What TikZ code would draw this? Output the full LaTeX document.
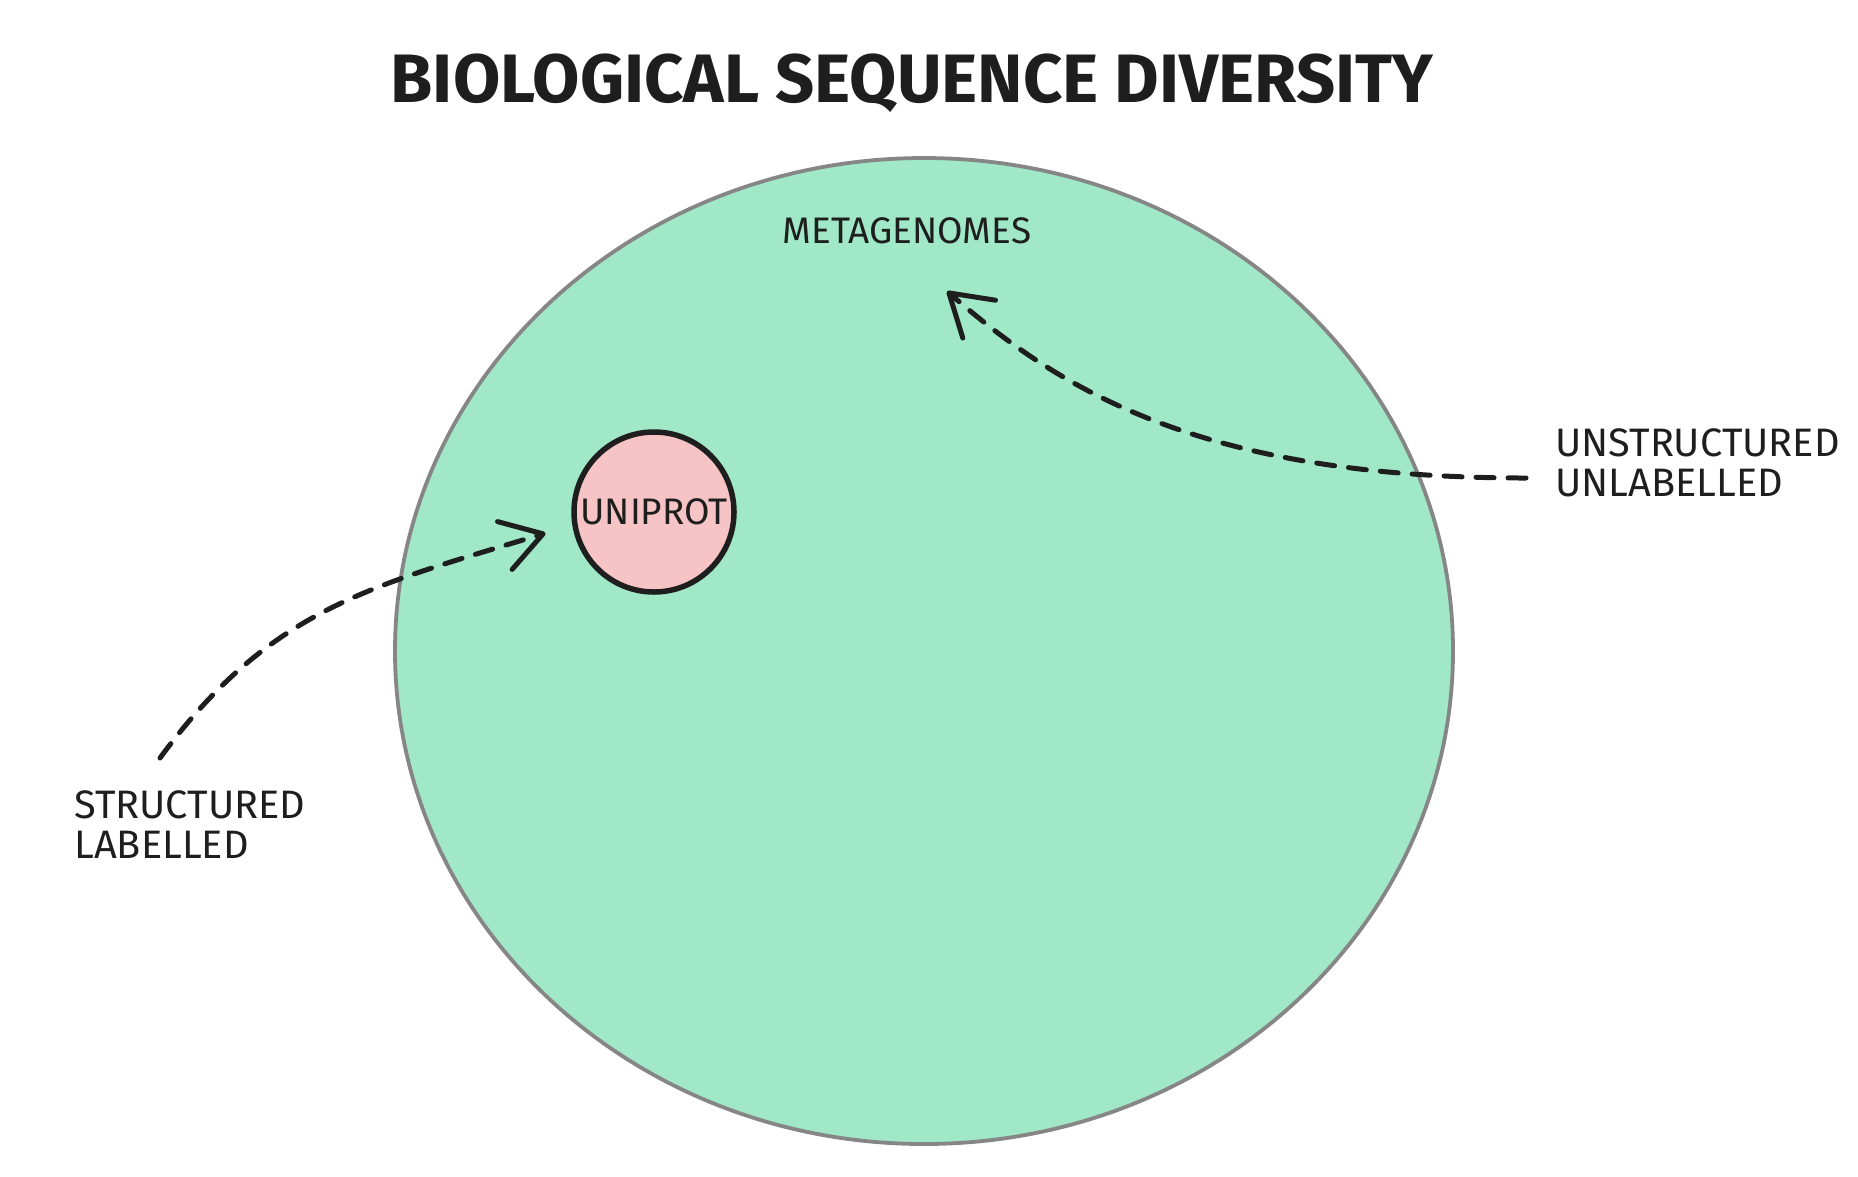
\documentclass[tikz,border=0pt]{standalone}
\usepackage{fontspec}
\setmainfont{Fira Sans}
\usetikzlibrary{shapes, positioning, arrows.meta}
\definecolor{metagreen}{RGB}{160,232,199}
\definecolor{uniprotpink}{RGB}{246,196,196}
\definecolor{rimgray}{RGB}{134,134,134}
\definecolor{inkblack}{RGB}{30,30,30}

\begin{document}
\begin{tikzpicture}[x=0.1mm, y=-0.1mm]
\tikzstyle{note_label}=[font=\fontsize{11.3}{11.4}\selectfont, text=inkblack, align=left, anchor=west]
\tikzstyle{data_arrow}=[draw=inkblack, line width=0.5mm, dash pattern=on 1.8mm off 1.4mm, line cap=round, -{Straight Barb[length=4mm, width=5mm, line cap=round, line join=round]}]

\useasboundingbox (0,0) rectangle (1858,1176);

\node[font=\fontsize{19.5}{22}\selectfont\bfseries, text=inkblack] (title) at (912,83) {BIOLOGICAL SEQUENCE DIVERSITY};

\node[ellipse, fill=metagreen, draw=rimgray, line width=0.38mm, minimum width=105.8mm, minimum height=98.6mm] (metag) at (924,651) {};
\node[font=\fontsize{10.5}{12}\selectfont, text=inkblack] (meta) at (907,231) {METAGENOMES};

\node[circle, fill=uniprotpink, draw=inkblack, line width=0.55mm, minimum size=16mm, inner sep=0pt, font=\fontsize{10.5}{12}\selectfont, text=inkblack] (uniprot) at (654,512) {UNIPROT};

\node[note_label] (labelled) at (62,825) {STRUCTURED\\LABELLED};
\node[note_label] (unlabelled) at (1543,463) {UNSTRUCTURED\\UNLABELLED};

\coordinate (s_start) at (160,758);
\coordinate (u_start) at (1526,478);

%data arrows
\draw [data_arrow, shorten >=2.8mm] (s_start) .. controls +(110,-150) and +(-200,61) .. (uniprot.189);
\draw [data_arrow, shorten >=5.3mm] (u_start) .. controls +(-330,0) and +(150,130) .. (meta.south);

\end{tikzpicture}
\end{document}
